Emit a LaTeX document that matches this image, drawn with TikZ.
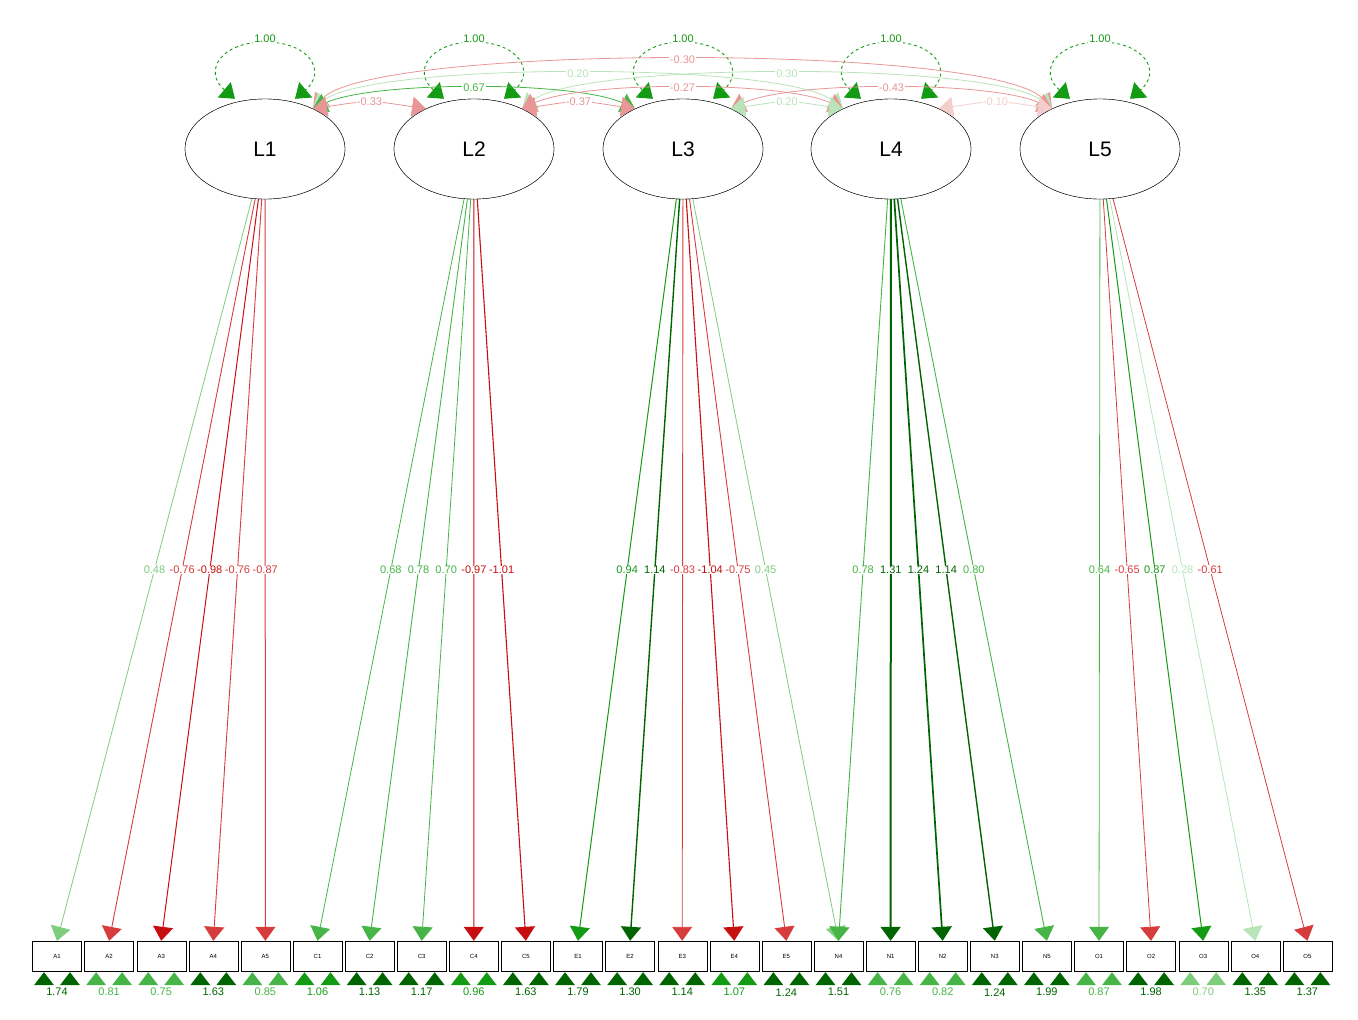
\documentclass[tikz,border=0pt]{standalone}
\usepackage{fontspec}
\setmainfont{Liberation Sans}
\usetikzlibrary{arrows.meta,calc}
\definecolor{g1}{RGB}{0,100,0}
\definecolor{g2}{RGB}{20,155,20}
\definecolor{g3}{RGB}{70,180,70}
\definecolor{g4}{RGB}{125,205,125}
\definecolor{g5}{RGB}{185,228,185}
\definecolor{r1}{RGB}{200,15,15}
\definecolor{r2}{RGB}{215,60,60}
\definecolor{r3}{RGB}{232,150,150}
\definecolor{r4}{RGB}{245,205,205}
\tikzset{
  lat/.style={draw,ellipse,minimum width=160pt,minimum height=100pt,inner sep=0pt,font=\fontsize{21}{21}\selectfont},
  man/.style={draw,rectangle,minimum width=49pt,minimum height=30pt,inner sep=0pt,font=\fontsize{6}{6}\selectfont},
  lbl/.style={fill=white,inner sep=1pt,font=\fontsize{11}{11}\selectfont},
  tip/.style={-{Triangle[width=20pt,length=14pt]}},
  dtip/.style={{Triangle[width=20pt,length=14pt]}-{Triangle[width=20pt,length=14pt]}},
}
\usetikzlibrary{shapes.geometric}
\begin{document}
\begin{tikzpicture}[x=1pt,y=-1pt]
\useasboundingbox (0,0) rectangle (1358,1020);
% latents
\foreach \n/\x in {L1/265,L2/474,L3/683,L4/891,L5/1100}{
  \node[lat] (\n) at (\x,149) {\n};
  \coordinate (\n top) at (\x,42);
  \draw[g2,dashed,line width=0.9pt,dtip] ([xshift=-30pt]\n.north) .. controls +(-32,-27) and +(-45,0) .. (\n top)
     .. controls +(45,0) and +(32,-27) .. ([xshift=30pt]\n.north);
  \node[lbl,text=g2] at (\x,39) {1.00};
}
% covariances
\foreach \a/\b/\h/\c/\v in {L1/L5/65/r3/-0.30, L1/L4/47/g5/0.20, L2/L5/47/g5/0.30, L1/L3/28/g3/0.67, L2/L4/28/r3/-0.27, L3/L5/28/r3/-0.43, L1/L2/9/r3/-0.33, L2/L3/9/r3/-0.37, L3/L4/9/g5/0.20, L4/L5/9/r4/-0.10}{
  \draw[\c,line width=0.8pt,dtip] (\a.40) .. controls +(60,-\h) and +(-60,-\h) .. (\b.140)
    node[pos=0.5,lbl,text=\c] {\v};
}
% manifest
\foreach \m [count=\i from 0] in {A1,A2,A3,A4,A5,C1,C2,C3,C4,C5,E1,E2,E3,E4,E5,N4,N1,N2,N3,N5,O1,O2,O3,O4,O5}{
  \node[man] (\m) at ({57+52.1*\i},956) {\m};
}
% residuals
\foreach \m/\v/\c in {A1/1.74/g1,A2/0.81/g3,A3/0.75/g3,A4/1.63/g1,A5/0.85/g3,C1/1.06/g2,C2/1.13/g1,C3/1.17/g1,C4/0.96/g2,C5/1.63/g1,E1/1.79/g1,E2/1.30/g1,E3/1.14/g1,E4/1.07/g2,E5/1.24/g1,N4/1.51/g1,N1/0.76/g3,N2/0.82/g3,N3/1.24/g1,N5/1.99/g1,O1/0.87/g3,O2/1.98/g1,O3/0.70/g4,O4/1.35/g1,O5/1.37/g1}{
  \fill[\c] ($(\m.south)+(-23,14)$) -- ($(\m.south)+(-13,1)$) -- ($(\m.south)+(-3,14)$) -- cycle;
  \fill[\c] ($(\m.south)+(3,14)$) -- ($(\m.south)+(13,1)$) -- ($(\m.south)+(23,14)$) -- cycle;
  \node[text=\c,font=\fontsize{11}{11}\selectfont] at ($(\m.south)+(0,21)$) {\v};
}
% loadings
\foreach \l/\m/\v/\c/\w in {L1/A1/0.48/g4/0.8,L1/A2/-0.76/r2/0.9,L1/A3/-0.98/r1/1,L1/A4/-0.76/r2/0.9,L1/A5/-0.87/r2/1,
  L2/C1/0.68/g3/0.8,L2/C2/0.78/g3/0.9,L2/C3/0.70/g3/0.8,L2/C4/-0.97/r1/1,L2/C5/-1.01/r1/1.1,
  L3/E1/0.94/g2/1,L3/E2/1.14/g1/1.4,L3/E3/-0.83/r2/0.9,L3/E4/-1.04/r1/1.1,L3/E5/-0.75/r2/0.9,L3/N4/0.45/g4/0.8,
  L4/N4/0.78/g3/0.9,L4/N1/1.31/g1/2,L4/N2/1.24/g1/1.7,L4/N3/1.14/g1/1.4,L4/N5/0.80/g3/0.9,
  L5/O1/0.64/g3/0.8,L5/O2/-0.65/r2/0.8,L5/O3/0.87/g2/1,L5/O4/0.28/g5/0.8,L5/O5/-0.61/r2/0.8}{
  \draw[\c,line width=\w pt,tip] (\l) -- (\m.north) node[pos=0.5,lbl,text=\c,inner sep=0.5pt] {\v};
}
\foreach \n in {L1,L2,L3,L4,L5}{\node[lat,fill=white] at (\n) {\n};}
\end{tikzpicture}
\end{document}
